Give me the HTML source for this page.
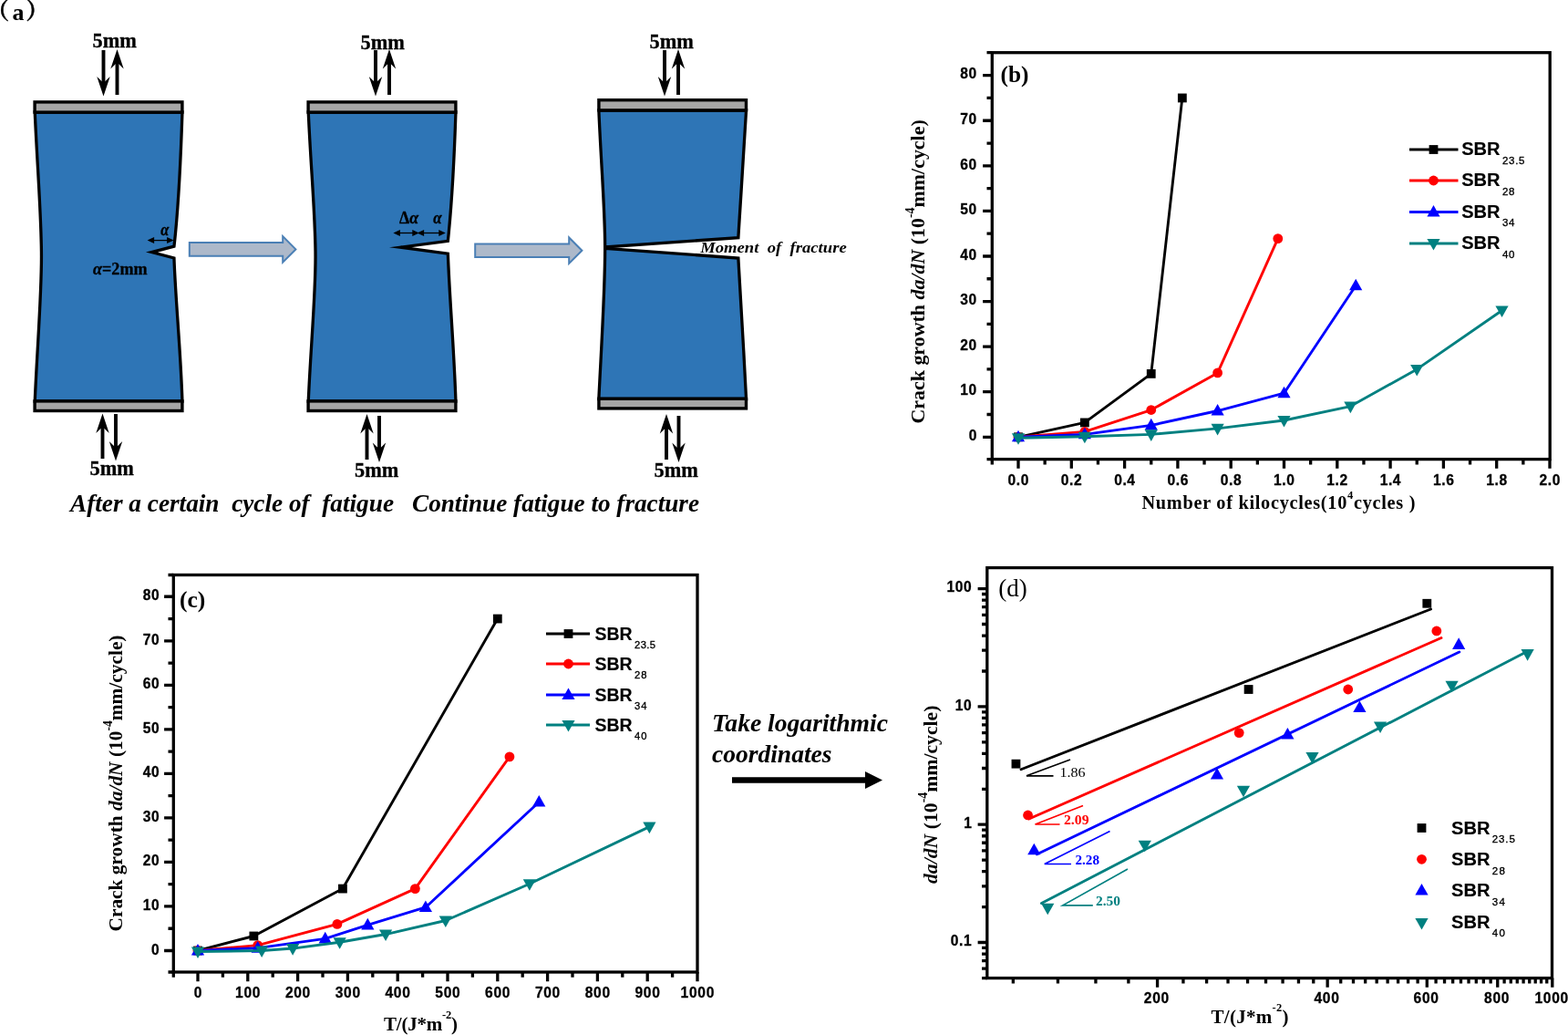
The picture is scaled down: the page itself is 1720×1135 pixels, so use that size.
<!DOCTYPE html>
<html lang="en">
<head>
<meta charset="utf-8">
<title>Fatigue crack growth of SBR</title>
<style>
html,body{margin:0;padding:0;background:#fff;}
body{width:1720px;height:1135px;overflow:hidden;}
svg{display:block;}
text{white-space:pre;}
</style>
</head>
<body>
<svg width="1720" height="1135" viewBox="0 0 1720 1135">
<rect x="0" y="0" width="1720" height="1135" fill="#fff"/>
<text font-weight="bold" fill="#000" font-family='"Liberation Serif","Noto Serif CJK SC",serif'><tspan x="-15.2" y="20.6" font-size="25.5" stroke="#000" stroke-width="0.4">（</tspan><tspan x="13.6" y="21.5" font-size="26">a</tspan><tspan x="28.3" y="20.6" font-size="25.5" stroke="#000" stroke-width="0.4">）</tspan></text>
<path d="M38.25,123 L199.95,123 C198.35,173 195.35,232.20 190.95,270.2 L166.5,276.6 L190.95,283.0 C192.75,333.00 197.95,380.00 199.95,440 L38.25,440 C40.85,380.00 45.45,326.50 45.45,281.50 C45.45,236.50 40.85,183.00 38.25,123 Z" fill="#2e75b6" stroke="#000" stroke-width="3.3" stroke-linejoin="miter" stroke-miterlimit="30"/>
<rect x="38.10" y="111.90" width="161.80" height="11.20" fill="#a6a6a6" stroke="#000" stroke-width="3.4"/>
<rect x="38.10" y="439.90" width="161.80" height="10.60" fill="#a6a6a6" stroke="#000" stroke-width="3.4"/>
<text x="101.50" y="52.00" font-size="24" font-weight="bold" font-style="normal" fill="#000" text-anchor="start" font-family='"Liberation Serif","Noto Serif CJK SC",serif' textLength="48.30" lengthAdjust="spacingAndGlyphs" stroke="#000" stroke-width="0.35">5mm</text>
<line x1="113.5" y1="55" x2="113.5" y2="92.0" stroke="#000" stroke-width="3.9"/>
<polygon points="113.5,105.5 106.3,84.0 113.5,91.0 120.7,84.0" fill="#000"/>
<line x1="128.5" y1="104" x2="128.5" y2="67.5" stroke="#000" stroke-width="3.9"/>
<polygon points="128.5,54 121.3,75.5 128.5,68.5 135.7,75.5" fill="#000"/>
<line x1="112.5" y1="503" x2="112.5" y2="467.0" stroke="#000" stroke-width="3.9"/>
<polygon points="112.5,453.5 105.3,475.0 112.5,468.0 119.7,475.0" fill="#000"/>
<line x1="127" y1="454" x2="127" y2="492.0" stroke="#000" stroke-width="3.9"/>
<polygon points="127,505.5 119.8,484.0 127,491.0 134.2,484.0" fill="#000"/>
<text x="98.50" y="521.00" font-size="24" font-weight="bold" font-style="normal" fill="#000" text-anchor="start" font-family='"Liberation Serif","Noto Serif CJK SC",serif' textLength="48.30" lengthAdjust="spacingAndGlyphs" stroke="#000" stroke-width="0.35">5mm</text>
<line x1="168.1" y1="263.6" x2="184.1" y2="263.6" stroke="#000" stroke-width="1.3"/>
<polygon points="161.6,263.6 169.1,260.1 169.1,267.1" fill="#000"/>
<polygon points="190.6,263.6 183.1,260.1 183.1,267.1" fill="#000"/>
<text x="176.20" y="257.80" font-size="19" font-weight="bold" font-style="italic" fill="#000" text-anchor="start" font-family='"Liberation Serif","Noto Serif CJK SC",serif' textLength="9.00" lengthAdjust="spacingAndGlyphs" stroke="#000" stroke-width="0.35">α</text>
<text x="102" y="300.8" font-size="18" font-weight="bold" stroke="#000" stroke-width="0.3" font-family='"Liberation Serif","Noto Serif CJK SC",serif' textLength="59.6" lengthAdjust="spacingAndGlyphs"><tspan font-style="italic">α</tspan>=2mm</text>
<polygon points="207.8,266.09999999999997 310.2,266.09999999999997 310.2,259.15 324.4,273.4 310.2,287.65 310.2,280.7 207.8,280.7" fill="#adb9ca" stroke="#4a7fb5" stroke-width="2" stroke-linejoin="miter"/>
<path d="M338.25,123 L499.95,123 C498.35,173 495.35,226.30 491.35,264.3 L439.5,271.2 L491.35,278.1 C493.15,328.10 497.95,380.00 499.95,440 L338.25,440 C340.85,380.00 346.05,326.50 346.05,281.50 C346.05,236.50 340.85,183.00 338.25,123 Z" fill="#2e75b6" stroke="#000" stroke-width="3.3" stroke-linejoin="miter" stroke-miterlimit="30"/>
<rect x="338.10" y="111.90" width="161.80" height="11.20" fill="#a6a6a6" stroke="#000" stroke-width="3.4"/>
<rect x="338.10" y="439.90" width="161.80" height="10.60" fill="#a6a6a6" stroke="#000" stroke-width="3.4"/>
<text x="395.50" y="54.00" font-size="24" font-weight="bold" font-style="normal" fill="#000" text-anchor="start" font-family='"Liberation Serif","Noto Serif CJK SC",serif' textLength="48.30" lengthAdjust="spacingAndGlyphs" stroke="#000" stroke-width="0.35">5mm</text>
<line x1="412" y1="55" x2="412" y2="92.0" stroke="#000" stroke-width="3.9"/>
<polygon points="412,105.5 404.8,84.0 412,91.0 419.2,84.0" fill="#000"/>
<line x1="427" y1="104" x2="427" y2="67.5" stroke="#000" stroke-width="3.9"/>
<polygon points="427,54 419.8,75.5 427,68.5 434.2,75.5" fill="#000"/>
<line x1="402.5" y1="504" x2="402.5" y2="467.5" stroke="#000" stroke-width="3.9"/>
<polygon points="402.5,454 395.3,475.5 402.5,468.5 409.7,475.5" fill="#000"/>
<line x1="416" y1="456" x2="416" y2="493.5" stroke="#000" stroke-width="3.9"/>
<polygon points="416,507 408.8,485.5 416,492.5 423.2,485.5" fill="#000"/>
<text x="389.00" y="523.00" font-size="24" font-weight="bold" font-style="normal" fill="#000" text-anchor="start" font-family='"Liberation Serif","Noto Serif CJK SC",serif' textLength="48.30" lengthAdjust="spacingAndGlyphs" stroke="#000" stroke-width="0.35">5mm</text>
<line x1="437.9" y1="255.5" x2="453.3" y2="255.5" stroke="#000" stroke-width="1.3"/>
<polygon points="431.4,255.5 438.9,252.0 438.9,259.0" fill="#000"/>
<polygon points="459.8,255.5 452.3,252.0 452.3,259.0" fill="#000"/>
<line x1="464.1" y1="255.5" x2="482.3" y2="255.5" stroke="#000" stroke-width="1.3"/>
<polygon points="457.6,255.5 465.1,252.0 465.1,259.0" fill="#000"/>
<polygon points="488.8,255.5 481.3,252.0 481.3,259.0" fill="#000"/>
<text x="438" y="245" font-size="19" font-weight="bold" stroke="#000" stroke-width="0.35" font-family='"Liberation Serif","Noto Serif CJK SC",serif' textLength="21" lengthAdjust="spacingAndGlyphs">Δ<tspan font-style="italic">α</tspan></text>
<text x="475.20" y="245.00" font-size="19" font-weight="bold" font-style="italic" fill="#000" text-anchor="start" font-family='"Liberation Serif","Noto Serif CJK SC",serif' textLength="9.30" lengthAdjust="spacingAndGlyphs" stroke="#000" stroke-width="0.35">α</text>
<polygon points="521.2,267.4 624.1999999999999,267.4 624.1999999999999,260.45 638.4,274.7 624.1999999999999,288.95 624.1999999999999,282.0 521.2,282.0" fill="#adb9ca" stroke="#4a7fb5" stroke-width="2" stroke-linejoin="miter"/>
<path d="M656.85,121 L818.55,121 C815.65,168 812.85,214 809.85,260.6 L663.65,271.0 C663.65,230 659.35,180 656.85,121 Z" fill="#2e75b6" stroke="#000" stroke-width="3.3" stroke-linejoin="miter" stroke-miterlimit="30"/>
<path d="M663.65,272.3 L809.85,283.0 C813.05,334 815.85,386 818.55,437.5 L656.85,437.5 C659.35,385 663.65,320 663.65,272.3 Z" fill="#2e75b6" stroke="#000" stroke-width="3.3" stroke-linejoin="miter" stroke-miterlimit="30"/>
<rect x="656.90" y="109.70" width="161.60" height="11.20" fill="#a6a6a6" stroke="#000" stroke-width="3.4"/>
<rect x="656.90" y="437.30" width="161.60" height="10.60" fill="#a6a6a6" stroke="#000" stroke-width="3.4"/>
<text x="712.50" y="52.50" font-size="24" font-weight="bold" font-style="normal" fill="#000" text-anchor="start" font-family='"Liberation Serif","Noto Serif CJK SC",serif' textLength="48.30" lengthAdjust="spacingAndGlyphs" stroke="#000" stroke-width="0.35">5mm</text>
<line x1="729" y1="55" x2="729" y2="92.0" stroke="#000" stroke-width="3.9"/>
<polygon points="729,105.5 721.8,84.0 729,91.0 736.2,84.0" fill="#000"/>
<line x1="744" y1="104" x2="744" y2="67.5" stroke="#000" stroke-width="3.9"/>
<polygon points="744,54 736.8,75.5 744,68.5 751.2,75.5" fill="#000"/>
<line x1="731" y1="504" x2="731" y2="467.5" stroke="#000" stroke-width="3.9"/>
<polygon points="731,454 723.8,475.5 731,468.5 738.2,475.5" fill="#000"/>
<line x1="744.5" y1="456" x2="744.5" y2="493.5" stroke="#000" stroke-width="3.9"/>
<polygon points="744.5,507 737.3,485.5 744.5,492.5 751.7,485.5" fill="#000"/>
<text x="717.50" y="523.00" font-size="24" font-weight="bold" font-style="normal" fill="#000" text-anchor="start" font-family='"Liberation Serif","Noto Serif CJK SC",serif' textLength="48.30" lengthAdjust="spacingAndGlyphs" stroke="#000" stroke-width="0.35">5mm</text>
<text x="768.20" y="277.20" font-size="17.5" font-weight="bold" font-style="italic" fill="#000" text-anchor="start" font-family='"Liberation Serif","Noto Serif CJK SC",serif' textLength="160.50" lengthAdjust="spacingAndGlyphs" xml:space="preserve">Moment  of  fracture</text>
<text x="77.00" y="561.00" font-size="27" font-weight="bold" font-style="italic" fill="#000" text-anchor="start" font-family='"Liberation Serif","Noto Serif CJK SC",serif' textLength="355.00" lengthAdjust="spacingAndGlyphs" xml:space="preserve">After a certain  cycle of  fatigue</text>
<text x="452.00" y="561.00" font-size="27" font-weight="bold" font-style="italic" fill="#000" text-anchor="start" font-family='"Liberation Serif","Noto Serif CJK SC",serif' textLength="315.00" lengthAdjust="spacingAndGlyphs" >Continue fatigue to fracture</text>
<polyline points="1117.00,479.30 1189.88,463.43 1262.75,409.89 1296.86,107.45" fill="none" stroke="#000000" stroke-width="2.9" stroke-linejoin="round"/>
<rect x="1112.10" y="474.40" width="9.8" height="9.8" fill="#000000"/>
<rect x="1184.97" y="458.53" width="9.8" height="9.8" fill="#000000"/>
<rect x="1257.85" y="404.99" width="9.8" height="9.8" fill="#000000"/>
<rect x="1291.96" y="102.55" width="9.8" height="9.8" fill="#000000"/>
<polyline points="1117.00,479.30 1189.88,473.35 1262.75,449.55 1335.62,408.90 1401.80,261.64" fill="none" stroke="#ff0000" stroke-width="2.9" stroke-linejoin="round"/>
<circle cx="1117.00" cy="479.30" r="5.4" fill="#ff0000"/>
<circle cx="1189.88" cy="473.35" r="5.4" fill="#ff0000"/>
<circle cx="1262.75" cy="449.55" r="5.4" fill="#ff0000"/>
<circle cx="1335.62" cy="408.90" r="5.4" fill="#ff0000"/>
<circle cx="1401.80" cy="261.64" r="5.4" fill="#ff0000"/>
<polyline points="1117.00,479.30 1189.88,476.33 1262.75,466.41 1335.62,450.54 1408.50,431.21 1487.20,313.21" fill="none" stroke="#0000ff" stroke-width="2.9" stroke-linejoin="round"/>
<polygon points="1117.00,471.74 1124.10,484.34 1109.90,484.34" fill="#0000ff"/>
<polygon points="1189.88,468.77 1196.97,481.37 1182.78,481.37" fill="#0000ff"/>
<polygon points="1262.75,458.85 1269.85,471.45 1255.65,471.45" fill="#0000ff"/>
<polygon points="1335.62,442.98 1342.72,455.58 1328.53,455.58" fill="#0000ff"/>
<polygon points="1408.50,423.65 1415.60,436.25 1401.40,436.25" fill="#0000ff"/>
<polygon points="1487.20,305.65 1494.30,318.25 1480.11,318.25" fill="#0000ff"/>
<polyline points="1117.00,480.29 1189.88,478.80 1262.75,476.33 1335.62,469.88 1408.50,460.96 1481.38,445.59 1554.25,404.93 1647.53,340.48" fill="none" stroke="#008080" stroke-width="2.9" stroke-linejoin="round"/>
<polygon points="1117.00,487.85 1124.10,475.25 1109.90,475.25" fill="#008080"/>
<polygon points="1189.88,486.36 1196.97,473.76 1182.78,473.76" fill="#008080"/>
<polygon points="1262.75,483.89 1269.85,471.29 1255.65,471.29" fill="#008080"/>
<polygon points="1335.62,477.44 1342.72,464.84 1328.53,464.84" fill="#008080"/>
<polygon points="1408.50,468.52 1415.60,455.92 1401.40,455.92" fill="#008080"/>
<polygon points="1481.38,453.15 1488.47,440.55 1474.28,440.55" fill="#008080"/>
<polygon points="1554.25,412.49 1561.35,399.89 1547.15,399.89" fill="#008080"/>
<polygon points="1647.53,348.04 1654.63,335.44 1640.43,335.44" fill="#008080"/>
<rect x="1088.3" y="57.7" width="611.90" height="445.90" fill="none" stroke="#000" stroke-width="3.3"/>
<path d="M1078.10,479.30H1088.30M1078.10,429.72H1088.30M1078.10,380.14H1088.30M1078.10,330.56H1088.30M1078.10,280.98H1088.30M1078.10,231.40H1088.30M1078.10,181.82H1088.30M1078.10,132.24H1088.30M1078.10,82.66H1088.30M1082.50,57.70H1088.30M1082.50,454.51H1088.30M1082.50,404.93H1088.30M1082.50,355.35H1088.30M1082.50,305.77H1088.30M1082.50,256.19H1088.30M1082.50,206.61H1088.30M1082.50,157.03H1088.30M1082.50,107.45H1088.30M1082.50,503.60H1088.30" fill="none" stroke="#000" stroke-width="3.3"/>
<path d="M1117.00,503.60V513.80M1175.30,503.60V513.80M1233.60,503.60V513.80M1291.90,503.60V513.80M1350.20,503.60V513.80M1408.50,503.60V513.80M1466.80,503.60V513.80M1525.10,503.60V513.80M1583.40,503.60V513.80M1641.70,503.60V513.80M1700.00,503.60V513.80M1088.30,503.60V509.40M1146.15,503.60V509.40M1204.45,503.60V509.40M1262.75,503.60V509.40M1321.05,503.60V509.40M1379.35,503.60V509.40M1437.65,503.60V509.40M1495.95,503.60V509.40M1554.25,503.60V509.40M1612.55,503.60V509.40M1670.85,503.60V509.40" fill="none" stroke="#000" stroke-width="3.3"/>
<text x="1072.00" y="483.00" font-family='"Liberation Sans",sans-serif' font-size="15.6" font-weight="bold" fill="#000" stroke="#000" stroke-width="0.3" letter-spacing="0.7" text-anchor="end">0</text>
<text x="1072.00" y="433.42" font-family='"Liberation Sans",sans-serif' font-size="15.6" font-weight="bold" fill="#000" stroke="#000" stroke-width="0.3" letter-spacing="0.7" text-anchor="end">10</text>
<text x="1072.00" y="383.84" font-family='"Liberation Sans",sans-serif' font-size="15.6" font-weight="bold" fill="#000" stroke="#000" stroke-width="0.3" letter-spacing="0.7" text-anchor="end">20</text>
<text x="1072.00" y="334.26" font-family='"Liberation Sans",sans-serif' font-size="15.6" font-weight="bold" fill="#000" stroke="#000" stroke-width="0.3" letter-spacing="0.7" text-anchor="end">30</text>
<text x="1072.00" y="284.68" font-family='"Liberation Sans",sans-serif' font-size="15.6" font-weight="bold" fill="#000" stroke="#000" stroke-width="0.3" letter-spacing="0.7" text-anchor="end">40</text>
<text x="1072.00" y="235.10" font-family='"Liberation Sans",sans-serif' font-size="15.6" font-weight="bold" fill="#000" stroke="#000" stroke-width="0.3" letter-spacing="0.7" text-anchor="end">50</text>
<text x="1072.00" y="185.52" font-family='"Liberation Sans",sans-serif' font-size="15.6" font-weight="bold" fill="#000" stroke="#000" stroke-width="0.3" letter-spacing="0.7" text-anchor="end">60</text>
<text x="1072.00" y="135.94" font-family='"Liberation Sans",sans-serif' font-size="15.6" font-weight="bold" fill="#000" stroke="#000" stroke-width="0.3" letter-spacing="0.7" text-anchor="end">70</text>
<text x="1072.00" y="86.36" font-family='"Liberation Sans",sans-serif' font-size="15.6" font-weight="bold" fill="#000" stroke="#000" stroke-width="0.3" letter-spacing="0.7" text-anchor="end">80</text>
<text x="1117.30" y="531.70" font-family='"Liberation Sans",sans-serif' font-size="15.6" font-weight="bold" fill="#000" stroke="#000" stroke-width="0.3" letter-spacing="0.6" text-anchor="middle">0.0</text>
<text x="1175.60" y="531.70" font-family='"Liberation Sans",sans-serif' font-size="15.6" font-weight="bold" fill="#000" stroke="#000" stroke-width="0.3" letter-spacing="0.6" text-anchor="middle">0.2</text>
<text x="1233.90" y="531.70" font-family='"Liberation Sans",sans-serif' font-size="15.6" font-weight="bold" fill="#000" stroke="#000" stroke-width="0.3" letter-spacing="0.6" text-anchor="middle">0.4</text>
<text x="1292.20" y="531.70" font-family='"Liberation Sans",sans-serif' font-size="15.6" font-weight="bold" fill="#000" stroke="#000" stroke-width="0.3" letter-spacing="0.6" text-anchor="middle">0.6</text>
<text x="1350.50" y="531.70" font-family='"Liberation Sans",sans-serif' font-size="15.6" font-weight="bold" fill="#000" stroke="#000" stroke-width="0.3" letter-spacing="0.6" text-anchor="middle">0.8</text>
<text x="1408.80" y="531.70" font-family='"Liberation Sans",sans-serif' font-size="15.6" font-weight="bold" fill="#000" stroke="#000" stroke-width="0.3" letter-spacing="0.6" text-anchor="middle">1.0</text>
<text x="1467.10" y="531.70" font-family='"Liberation Sans",sans-serif' font-size="15.6" font-weight="bold" fill="#000" stroke="#000" stroke-width="0.3" letter-spacing="0.6" text-anchor="middle">1.2</text>
<text x="1525.40" y="531.70" font-family='"Liberation Sans",sans-serif' font-size="15.6" font-weight="bold" fill="#000" stroke="#000" stroke-width="0.3" letter-spacing="0.6" text-anchor="middle">1.4</text>
<text x="1583.70" y="531.70" font-family='"Liberation Sans",sans-serif' font-size="15.6" font-weight="bold" fill="#000" stroke="#000" stroke-width="0.3" letter-spacing="0.6" text-anchor="middle">1.6</text>
<text x="1642.00" y="531.70" font-family='"Liberation Sans",sans-serif' font-size="15.6" font-weight="bold" fill="#000" stroke="#000" stroke-width="0.3" letter-spacing="0.6" text-anchor="middle">1.8</text>
<text x="1700.30" y="531.70" font-family='"Liberation Sans",sans-serif' font-size="15.6" font-weight="bold" fill="#000" stroke="#000" stroke-width="0.3" letter-spacing="0.6" text-anchor="middle">2.0</text>
<text x="1097.50" y="90.30" font-size="26" font-weight="bold" font-style="normal" fill="#000" text-anchor="start" font-family='"Liberation Serif","Noto Serif CJK SC",serif' textLength="31.00" lengthAdjust="spacingAndGlyphs" >(b)</text>
<text x="1014.00" y="464.50" font-family='"Liberation Serif","Noto Serif CJK SC",serif' font-size="22" font-weight="bold" transform="rotate(-90 1014.00 464.50)" textLength="333.20" lengthAdjust="spacingAndGlyphs">Crack growth <tspan font-style="italic">da/dN</tspan> (10<tspan font-size="14" dy="-11">-4</tspan><tspan dy="11">mm/cycle)</tspan></text>
<text x="1252.5" y="558.4" font-family='"Liberation Serif","Noto Serif CJK SC",serif' font-size="20.3" font-weight="bold" textLength="300" lengthAdjust="spacing">Number of kilocycles(10<tspan font-size="12.5" dy="-11.5">4</tspan><tspan dy="11.5">cycles )</tspan></text>
<line x1="1546.00" y1="164.00" x2="1599.50" y2="164.00" stroke="#000000" stroke-width="2.9" stroke-linecap="butt"/>
<rect x="1567.60" y="159.10" width="9.8" height="9.8" fill="#000000"/>
<text font-family='"Liberation Sans",sans-serif' fill="#000" stroke="#000"><tspan x="1603.20" y="170.30" font-size="21" font-weight="bold" stroke-width="0.15" textLength="42.4" lengthAdjust="spacingAndGlyphs">SBR</tspan><tspan x="1648.00" y="179.60" font-size="11.5" stroke-width="0.35" textLength="24.5" lengthAdjust="spacing">23.5</tspan></text>
<line x1="1546.00" y1="198.00" x2="1599.50" y2="198.00" stroke="#ff0000" stroke-width="2.9" stroke-linecap="butt"/>
<circle cx="1572.50" cy="198.00" r="5.4" fill="#ff0000"/>
<text font-family='"Liberation Sans",sans-serif' fill="#000" stroke="#000"><tspan x="1603.20" y="204.30" font-size="21" font-weight="bold" stroke-width="0.15" textLength="42.4" lengthAdjust="spacingAndGlyphs">SBR</tspan><tspan x="1648.00" y="213.60" font-size="11.5" stroke-width="0.35" textLength="13.5" lengthAdjust="spacing">28</tspan></text>
<line x1="1546.00" y1="232.50" x2="1599.50" y2="232.50" stroke="#0000ff" stroke-width="2.9" stroke-linecap="butt"/>
<polygon points="1572.50,224.94 1579.60,237.54 1565.40,237.54" fill="#0000ff"/>
<text font-family='"Liberation Sans",sans-serif' fill="#000" stroke="#000"><tspan x="1603.20" y="238.80" font-size="21" font-weight="bold" stroke-width="0.15" textLength="42.4" lengthAdjust="spacingAndGlyphs">SBR</tspan><tspan x="1648.00" y="248.10" font-size="11.5" stroke-width="0.35" textLength="13.5" lengthAdjust="spacing">34</tspan></text>
<line x1="1546.00" y1="267.00" x2="1599.50" y2="267.00" stroke="#008080" stroke-width="2.9" stroke-linecap="butt"/>
<polygon points="1572.50,274.56 1579.60,261.96 1565.40,261.96" fill="#008080"/>
<text font-family='"Liberation Sans",sans-serif' fill="#000" stroke="#000"><tspan x="1603.20" y="273.30" font-size="21" font-weight="bold" stroke-width="0.15" textLength="42.4" lengthAdjust="spacingAndGlyphs">SBR</tspan><tspan x="1648.00" y="282.60" font-size="11.5" stroke-width="0.35" textLength="13.5" lengthAdjust="spacing">40</tspan></text>
<polyline points="217.00,1042.50 278.38,1026.49 375.92,974.56 545.80,678.53" fill="none" stroke="#000000" stroke-width="2.9" stroke-linejoin="round"/>
<rect x="212.10" y="1037.60" width="9.8" height="9.8" fill="#000000"/>
<rect x="273.48" y="1021.59" width="9.8" height="9.8" fill="#000000"/>
<rect x="371.02" y="969.66" width="9.8" height="9.8" fill="#000000"/>
<rect x="540.90" y="673.63" width="9.8" height="9.8" fill="#000000"/>
<polyline points="217.00,1042.50 282.76,1036.68 369.89,1013.38 455.38,974.56 558.95,829.94" fill="none" stroke="#ff0000" stroke-width="2.9" stroke-linejoin="round"/>
<circle cx="217.00" cy="1042.50" r="5.4" fill="#ff0000"/>
<circle cx="282.76" cy="1036.68" r="5.4" fill="#ff0000"/>
<circle cx="369.89" cy="1013.38" r="5.4" fill="#ff0000"/>
<circle cx="455.38" cy="974.56" r="5.4" fill="#ff0000"/>
<circle cx="558.95" cy="829.94" r="5.4" fill="#ff0000"/>
<polyline points="217.00,1042.50 282.76,1039.59 356.74,1029.40 403.32,1014.35 466.89,994.94 591.28,879.44" fill="none" stroke="#0000ff" stroke-width="2.9" stroke-linejoin="round"/>
<polygon points="217.00,1034.94 224.10,1047.54 209.90,1047.54" fill="#0000ff"/>
<polygon points="282.76,1032.03 289.86,1044.63 275.66,1044.63" fill="#0000ff"/>
<polygon points="356.74,1021.84 363.84,1034.44 349.64,1034.44" fill="#0000ff"/>
<polygon points="403.32,1006.79 410.42,1019.39 396.22,1019.39" fill="#0000ff"/>
<polygon points="466.89,987.38 473.99,999.98 459.79,999.98" fill="#0000ff"/>
<polygon points="591.28,871.88 598.38,884.48 584.18,884.48" fill="#0000ff"/>
<polyline points="217.00,1043.47 287.14,1042.50 321.12,1040.07 372.63,1033.28 423.05,1024.54 488.81,1009.50 580.87,969.22 712.39,906.62" fill="none" stroke="#008080" stroke-width="2.9" stroke-linejoin="round"/>
<polygon points="217.00,1051.03 224.10,1038.43 209.90,1038.43" fill="#008080"/>
<polygon points="287.14,1050.06 294.24,1037.46 280.04,1037.46" fill="#008080"/>
<polygon points="321.12,1047.63 328.22,1035.03 314.02,1035.03" fill="#008080"/>
<polygon points="372.63,1040.84 379.73,1028.24 365.53,1028.24" fill="#008080"/>
<polygon points="423.05,1032.10 430.15,1019.50 415.95,1019.50" fill="#008080"/>
<polygon points="488.81,1017.06 495.91,1004.46 481.71,1004.46" fill="#008080"/>
<polygon points="580.87,976.78 587.97,964.18 573.77,964.18" fill="#008080"/>
<polygon points="712.39,914.18 719.49,901.58 705.29,901.58" fill="#008080"/>
<rect x="190.3" y="630.5" width="574.70" height="435.50" fill="none" stroke="#000" stroke-width="3.3"/>
<path d="M180.10,1042.50H190.30M180.10,993.97H190.30M180.10,945.44H190.30M180.10,896.91H190.30M180.10,848.38H190.30M180.10,799.85H190.30M180.10,751.32H190.30M180.10,702.79H190.30M180.10,654.26H190.30M184.50,630.50H190.30M184.50,1018.24H190.30M184.50,969.71H190.30M184.50,921.17H190.30M184.50,872.64H190.30M184.50,824.12H190.30M184.50,775.59H190.30M184.50,727.06H190.30M184.50,678.53H190.30M184.50,1066.00H190.30" fill="none" stroke="#000" stroke-width="3.3"/>
<path d="M217.00,1066.00V1076.20M271.80,1066.00V1076.20M326.60,1066.00V1076.20M381.40,1066.00V1076.20M436.20,1066.00V1076.20M491.00,1066.00V1076.20M545.80,1066.00V1076.20M600.60,1066.00V1076.20M655.40,1066.00V1076.20M710.20,1066.00V1076.20M765.00,1066.00V1076.20M190.30,1066.00V1071.80M244.40,1066.00V1071.80M299.20,1066.00V1071.80M354.00,1066.00V1071.80M408.80,1066.00V1071.80M463.60,1066.00V1071.80M518.40,1066.00V1071.80M573.20,1066.00V1071.80M628.00,1066.00V1071.80M682.80,1066.00V1071.80M737.60,1066.00V1071.80" fill="none" stroke="#000" stroke-width="3.3"/>
<text x="175.40" y="1046.50" font-family='"Liberation Sans",sans-serif' font-size="15.6" font-weight="bold" fill="#000" stroke="#000" stroke-width="0.3" letter-spacing="0.7" text-anchor="end">0</text>
<text x="175.40" y="997.97" font-family='"Liberation Sans",sans-serif' font-size="15.6" font-weight="bold" fill="#000" stroke="#000" stroke-width="0.3" letter-spacing="0.7" text-anchor="end">10</text>
<text x="175.40" y="949.44" font-family='"Liberation Sans",sans-serif' font-size="15.6" font-weight="bold" fill="#000" stroke="#000" stroke-width="0.3" letter-spacing="0.7" text-anchor="end">20</text>
<text x="175.40" y="900.91" font-family='"Liberation Sans",sans-serif' font-size="15.6" font-weight="bold" fill="#000" stroke="#000" stroke-width="0.3" letter-spacing="0.7" text-anchor="end">30</text>
<text x="175.40" y="852.38" font-family='"Liberation Sans",sans-serif' font-size="15.6" font-weight="bold" fill="#000" stroke="#000" stroke-width="0.3" letter-spacing="0.7" text-anchor="end">40</text>
<text x="175.40" y="803.85" font-family='"Liberation Sans",sans-serif' font-size="15.6" font-weight="bold" fill="#000" stroke="#000" stroke-width="0.3" letter-spacing="0.7" text-anchor="end">50</text>
<text x="175.40" y="755.32" font-family='"Liberation Sans",sans-serif' font-size="15.6" font-weight="bold" fill="#000" stroke="#000" stroke-width="0.3" letter-spacing="0.7" text-anchor="end">60</text>
<text x="175.40" y="706.79" font-family='"Liberation Sans",sans-serif' font-size="15.6" font-weight="bold" fill="#000" stroke="#000" stroke-width="0.3" letter-spacing="0.7" text-anchor="end">70</text>
<text x="175.40" y="658.26" font-family='"Liberation Sans",sans-serif' font-size="15.6" font-weight="bold" fill="#000" stroke="#000" stroke-width="0.3" letter-spacing="0.7" text-anchor="end">80</text>
<text x="217.35" y="1093.50" font-family='"Liberation Sans",sans-serif' font-size="15.6" font-weight="bold" fill="#000" stroke="#000" stroke-width="0.3" letter-spacing="0.7" text-anchor="middle">0</text>
<text x="272.15" y="1093.50" font-family='"Liberation Sans",sans-serif' font-size="15.6" font-weight="bold" fill="#000" stroke="#000" stroke-width="0.3" letter-spacing="0.7" text-anchor="middle">100</text>
<text x="326.95" y="1093.50" font-family='"Liberation Sans",sans-serif' font-size="15.6" font-weight="bold" fill="#000" stroke="#000" stroke-width="0.3" letter-spacing="0.7" text-anchor="middle">200</text>
<text x="381.75" y="1093.50" font-family='"Liberation Sans",sans-serif' font-size="15.6" font-weight="bold" fill="#000" stroke="#000" stroke-width="0.3" letter-spacing="0.7" text-anchor="middle">300</text>
<text x="436.55" y="1093.50" font-family='"Liberation Sans",sans-serif' font-size="15.6" font-weight="bold" fill="#000" stroke="#000" stroke-width="0.3" letter-spacing="0.7" text-anchor="middle">400</text>
<text x="491.35" y="1093.50" font-family='"Liberation Sans",sans-serif' font-size="15.6" font-weight="bold" fill="#000" stroke="#000" stroke-width="0.3" letter-spacing="0.7" text-anchor="middle">500</text>
<text x="546.15" y="1093.50" font-family='"Liberation Sans",sans-serif' font-size="15.6" font-weight="bold" fill="#000" stroke="#000" stroke-width="0.3" letter-spacing="0.7" text-anchor="middle">600</text>
<text x="600.95" y="1093.50" font-family='"Liberation Sans",sans-serif' font-size="15.6" font-weight="bold" fill="#000" stroke="#000" stroke-width="0.3" letter-spacing="0.7" text-anchor="middle">700</text>
<text x="655.75" y="1093.50" font-family='"Liberation Sans",sans-serif' font-size="15.6" font-weight="bold" fill="#000" stroke="#000" stroke-width="0.3" letter-spacing="0.7" text-anchor="middle">800</text>
<text x="710.55" y="1093.50" font-family='"Liberation Sans",sans-serif' font-size="15.6" font-weight="bold" fill="#000" stroke="#000" stroke-width="0.3" letter-spacing="0.7" text-anchor="middle">900</text>
<text x="765.35" y="1093.50" font-family='"Liberation Sans",sans-serif' font-size="15.6" font-weight="bold" fill="#000" stroke="#000" stroke-width="0.3" letter-spacing="0.7" text-anchor="middle">1000</text>
<text x="197.00" y="666.30" font-size="26" font-weight="bold" font-style="normal" fill="#000" text-anchor="start" font-family='"Liberation Serif","Noto Serif CJK SC",serif' textLength="28.30" lengthAdjust="spacingAndGlyphs" >(c)</text>
<text x="134.20" y="1021.50" font-family='"Liberation Serif","Noto Serif CJK SC",serif' font-size="22" font-weight="bold" transform="rotate(-90 134.20 1021.50)" textLength="325.00" lengthAdjust="spacingAndGlyphs">Crack growth <tspan font-style="italic">da/dN</tspan> (10<tspan font-size="14" dy="-11">-4</tspan><tspan dy="11">mm/cycle)</tspan></text>
<text x="421" y="1130" font-family='"Liberation Serif","Noto Serif CJK SC",serif' font-size="21" font-weight="bold" textLength="81" lengthAdjust="spacing">T/(J*m<tspan font-size="12.5" dy="-13.5">-2</tspan><tspan dy="13.5">)</tspan></text>
<line x1="599.00" y1="695.00" x2="647.00" y2="695.00" stroke="#000000" stroke-width="2.9" stroke-linecap="butt"/>
<rect x="618.60" y="690.10" width="9.8" height="9.8" fill="#000000"/>
<text font-family='"Liberation Sans",sans-serif' fill="#000" stroke="#000"><tspan x="652.50" y="701.50" font-size="20.4" font-weight="bold" stroke-width="0.15" textLength="41.2" lengthAdjust="spacingAndGlyphs">SBR</tspan><tspan x="696.10" y="710.50" font-size="11.2" stroke-width="0.35" textLength="23" lengthAdjust="spacing">23.5</tspan></text>
<line x1="599.00" y1="728.00" x2="647.00" y2="728.00" stroke="#ff0000" stroke-width="2.9" stroke-linecap="butt"/>
<circle cx="623.50" cy="728.00" r="5.4" fill="#ff0000"/>
<text font-family='"Liberation Sans",sans-serif' fill="#000" stroke="#000"><tspan x="652.50" y="734.50" font-size="20.4" font-weight="bold" stroke-width="0.15" textLength="41.2" lengthAdjust="spacingAndGlyphs">SBR</tspan><tspan x="696.10" y="743.50" font-size="11.2" stroke-width="0.35" textLength="13.5" lengthAdjust="spacing">28</tspan></text>
<line x1="599.00" y1="762.00" x2="647.00" y2="762.00" stroke="#0000ff" stroke-width="2.9" stroke-linecap="butt"/>
<polygon points="623.50,754.44 630.60,767.04 616.40,767.04" fill="#0000ff"/>
<text font-family='"Liberation Sans",sans-serif' fill="#000" stroke="#000"><tspan x="652.50" y="768.50" font-size="20.4" font-weight="bold" stroke-width="0.15" textLength="41.2" lengthAdjust="spacingAndGlyphs">SBR</tspan><tspan x="696.10" y="777.50" font-size="11.2" stroke-width="0.35" textLength="13.5" lengthAdjust="spacing">34</tspan></text>
<line x1="599.00" y1="795.00" x2="647.00" y2="795.00" stroke="#008080" stroke-width="2.9" stroke-linecap="butt"/>
<polygon points="623.50,802.56 630.60,789.96 616.40,789.96" fill="#008080"/>
<text font-family='"Liberation Sans",sans-serif' fill="#000" stroke="#000"><tspan x="652.50" y="801.50" font-size="20.4" font-weight="bold" stroke-width="0.15" textLength="41.2" lengthAdjust="spacingAndGlyphs">SBR</tspan><tspan x="696.10" y="810.50" font-size="11.2" stroke-width="0.35" textLength="13.5" lengthAdjust="spacing">40</tspan></text>
<text x="781.00" y="801.50" font-size="27" font-weight="bold" font-style="italic" fill="#000" text-anchor="start" font-family='"Liberation Serif","Noto Serif CJK SC",serif' textLength="193.00" lengthAdjust="spacingAndGlyphs" >Take logarithmic</text>
<text x="781.00" y="835.50" font-size="27" font-weight="bold" font-style="italic" fill="#000" text-anchor="start" font-family='"Liberation Serif","Noto Serif CJK SC",serif' textLength="131.50" lengthAdjust="spacingAndGlyphs" >coordinates</text>
<line x1="803" y1="855.5" x2="952" y2="855.5" stroke="#000" stroke-width="6.5"/>
<polygon points="968,855.5 949,846 949,865" fill="#000"/>
<line x1="1120.00" y1="843.75" x2="1569.50" y2="668.00" stroke="#000000" stroke-width="2.9" stroke-linecap="round"/>
<line x1="1128.75" y1="898.00" x2="1581.00" y2="699.50" stroke="#ff0000" stroke-width="2.9" stroke-linecap="round"/>
<line x1="1137.50" y1="936.75" x2="1600.75" y2="715.00" stroke="#0000ff" stroke-width="2.9" stroke-linecap="round"/>
<line x1="1142.50" y1="990.50" x2="1675.00" y2="714.50" stroke="#008080" stroke-width="2.9" stroke-linecap="round"/>
<rect x="1109.56" y="832.77" width="9.8" height="9.8" fill="#000000"/>
<rect x="1364.69" y="751.11" width="9.8" height="9.8" fill="#000000"/>
<rect x="1560.40" y="656.85" width="9.8" height="9.8" fill="#000000"/>
<circle cx="1127.55" cy="893.96" r="5.4" fill="#ff0000"/>
<circle cx="1359.19" cy="803.59" r="5.4" fill="#ff0000"/>
<circle cx="1478.74" cy="756.01" r="5.4" fill="#ff0000"/>
<circle cx="1575.86" cy="691.96" r="5.4" fill="#ff0000"/>
<polygon points="1134.31,924.67 1141.41,937.27 1127.21,937.27" fill="#0000ff"/>
<polygon points="1334.97,841.91 1342.07,854.51 1327.87,854.51" fill="#0000ff"/>
<polygon points="1412.41,797.93 1419.51,810.53 1405.31,810.53" fill="#0000ff"/>
<polygon points="1491.43,768.47 1498.53,781.07 1484.33,781.07" fill="#0000ff"/>
<polygon points="1600.17,699.28 1607.27,711.88 1593.07,711.88" fill="#0000ff"/>
<polygon points="1149.24,1003.27 1156.34,990.67 1142.14,990.67" fill="#008080"/>
<polygon points="1255.77,934.25 1262.87,921.65 1248.67,921.65" fill="#008080"/>
<polygon points="1363.97,874.26 1371.07,861.66 1356.87,861.66" fill="#008080"/>
<polygon points="1439.50,837.54 1446.60,824.94 1432.40,824.94" fill="#008080"/>
<polygon points="1514.06,804.12 1521.16,791.52 1506.96,791.52" fill="#008080"/>
<polygon points="1592.58,759.32 1599.68,746.72 1585.48,746.72" fill="#008080"/>
<polygon points="1675.63,724.64 1682.73,712.04 1668.53,712.04" fill="#008080"/>
<rect x="1082.8" y="622.6" width="619.70" height="450.00" fill="none" stroke="#000" stroke-width="3.3"/>
<path d="M1072.60,645.60H1082.80M1072.60,774.90H1082.80M1072.60,904.20H1082.80M1072.60,1033.50H1082.80M1077.00,1062.19H1082.80M1077.00,1053.53H1082.80M1077.00,1046.03H1082.80M1077.00,1039.42H1082.80M1077.00,994.58H1082.80M1077.00,971.81H1082.80M1077.00,955.65H1082.80M1077.00,943.12H1082.80M1077.00,932.89H1082.80M1077.00,924.23H1082.80M1077.00,916.73H1082.80M1077.00,910.12H1082.80M1077.00,865.28H1082.80M1077.00,842.51H1082.80M1077.00,826.35H1082.80M1077.00,813.82H1082.80M1077.00,803.59H1082.80M1077.00,794.93H1082.80M1077.00,787.43H1082.80M1077.00,780.82H1082.80M1077.00,735.98H1082.80M1077.00,713.21H1082.80M1077.00,697.05H1082.80M1077.00,684.52H1082.80M1077.00,674.29H1082.80M1077.00,665.63H1082.80M1077.00,658.13H1082.80M1077.00,651.52H1082.80M1077.00,1072.60H1082.80" fill="none" stroke="#000" stroke-width="3.3"/>
<path d="M1269.58,1072.60V1082.80M1456.16,1072.60V1082.80M1565.30,1072.60V1082.80M1642.74,1072.60V1082.80M1702.80,1072.60V1082.80M1111.36,1072.60V1078.40M1160.44,1072.60V1078.40M1201.93,1072.60V1078.40M1237.87,1072.60V1078.40M1297.94,1072.60V1078.40M1323.59,1072.60V1078.40M1347.02,1072.60V1078.40M1368.56,1072.60V1078.40M1388.51,1072.60V1078.40M1407.08,1072.60V1078.40M1424.45,1072.60V1078.40M1440.77,1072.60V1078.40M1470.71,1072.60V1078.40M1484.52,1072.60V1078.40M1497.65,1072.60V1078.40M1510.17,1072.60V1078.40M1522.14,1072.60V1078.40M1533.59,1072.60V1078.40M1544.58,1072.60V1078.40M1555.14,1072.60V1078.40M1575.09,1072.60V1078.40M1584.53,1072.60V1078.40M1593.66,1072.60V1078.40M1602.48,1072.60V1078.40M1611.03,1072.60V1078.40M1619.31,1072.60V1078.40M1627.35,1072.60V1078.40M1635.15,1072.60V1078.40M1650.11,1072.60V1078.40M1657.29,1072.60V1078.40M1664.28,1072.60V1078.40M1671.10,1072.60V1078.40M1677.74,1072.60V1078.40M1684.23,1072.60V1078.40M1690.56,1072.60V1078.40M1696.75,1072.60V1078.40" fill="none" stroke="#000" stroke-width="3.3"/>
<text x="1066.50" y="649.30" font-family='"Liberation Sans",sans-serif' font-size="15.6" font-weight="bold" fill="#000" stroke="#000" stroke-width="0.3" letter-spacing="0.7" text-anchor="end">100</text>
<text x="1066.50" y="778.60" font-family='"Liberation Sans",sans-serif' font-size="15.6" font-weight="bold" fill="#000" stroke="#000" stroke-width="0.3" letter-spacing="0.7" text-anchor="end">10</text>
<text x="1066.50" y="907.90" font-family='"Liberation Sans",sans-serif' font-size="15.6" font-weight="bold" fill="#000" stroke="#000" stroke-width="0.3" letter-spacing="0.7" text-anchor="end">1</text>
<text x="1066.50" y="1037.20" font-family='"Liberation Sans",sans-serif' font-size="15.6" font-weight="bold" fill="#000" stroke="#000" stroke-width="0.3" letter-spacing="0.7" text-anchor="end">0.1</text>
<text x="1268.93" y="1099.90" font-family='"Liberation Sans",sans-serif' font-size="15.6" font-weight="bold" fill="#000" stroke="#000" stroke-width="0.3" letter-spacing="0.7" text-anchor="middle">200</text>
<text x="1455.51" y="1099.90" font-family='"Liberation Sans",sans-serif' font-size="15.6" font-weight="bold" fill="#000" stroke="#000" stroke-width="0.3" letter-spacing="0.7" text-anchor="middle">400</text>
<text x="1564.65" y="1099.90" font-family='"Liberation Sans",sans-serif' font-size="15.6" font-weight="bold" fill="#000" stroke="#000" stroke-width="0.3" letter-spacing="0.7" text-anchor="middle">600</text>
<text x="1642.09" y="1099.90" font-family='"Liberation Sans",sans-serif' font-size="15.6" font-weight="bold" fill="#000" stroke="#000" stroke-width="0.3" letter-spacing="0.7" text-anchor="middle">800</text>
<text x="1702.15" y="1099.90" font-family='"Liberation Sans",sans-serif' font-size="15.6" font-weight="bold" fill="#000" stroke="#000" stroke-width="0.3" letter-spacing="0.7" text-anchor="middle">1000</text>
<text x="1095.20" y="653.60" font-size="27" font-weight="normal" font-style="normal" fill="#000" text-anchor="start" font-family='"Liberation Serif","Noto Serif CJK SC",serif' textLength="31.50" lengthAdjust="spacingAndGlyphs" >(d)</text>
<text x="1027.50" y="969.00" font-family='"Liberation Serif","Noto Serif CJK SC",serif' font-size="22" font-weight="bold" transform="rotate(-90 1027.50 969.00)" textLength="195.50" lengthAdjust="spacingAndGlyphs"><tspan font-style="italic">da/dN</tspan> (10<tspan font-size="14" dy="-11">-4</tspan><tspan dy="11">mm/cycle)</tspan></text>
<text x="1328.5" y="1122" font-family='"Liberation Serif","Noto Serif CJK SC",serif' font-size="21" font-weight="bold" textLength="85" lengthAdjust="spacing">T/(J*m<tspan font-size="12.5" dy="-13.5">-2</tspan><tspan dy="13.5">)</tspan></text>
<polyline points="1155.5,850.8 1126,850.8 1174,833" fill="none" stroke="#000000" stroke-width="1.7"/>
<text x="1162.50" y="852.00" font-size="14.5" font-weight="normal" font-style="normal" fill="#000000" text-anchor="start" font-family='"Liberation Serif","Noto Serif CJK SC",serif' textLength="28.00" lengthAdjust="spacingAndGlyphs" >1.86</text>
<polyline points="1162.5,904 1135.5,904 1188,883.5" fill="none" stroke="#ff0000" stroke-width="1.7"/>
<text x="1167.00" y="903.80" font-size="14.5" font-weight="bold" font-style="normal" fill="#ff0000" text-anchor="start" font-family='"Liberation Serif","Noto Serif CJK SC",serif' textLength="27.50" lengthAdjust="spacingAndGlyphs" >2.09</text>
<polyline points="1175,947.5 1145.8,947.5 1217.5,911.5" fill="none" stroke="#0000ff" stroke-width="1.7"/>
<text x="1179.50" y="947.60" font-size="14.5" font-weight="bold" font-style="normal" fill="#0000ff" text-anchor="start" font-family='"Liberation Serif","Noto Serif CJK SC",serif' textLength="26.50" lengthAdjust="spacingAndGlyphs" >2.28</text>
<polyline points="1198.8,992.8 1165.8,992.8 1237,953" fill="none" stroke="#008080" stroke-width="1.7"/>
<text x="1202.00" y="992.80" font-size="14.5" font-weight="bold" font-style="normal" fill="#008080" text-anchor="start" font-family='"Liberation Serif","Noto Serif CJK SC",serif' textLength="27.00" lengthAdjust="spacingAndGlyphs" >2.50</text>
<rect x="1554.60" y="903.10" width="9.8" height="9.8" fill="#000000"/>
<circle cx="1559.50" cy="942.30" r="5.4" fill="#ff0000"/>
<polygon points="1559.50,968.94 1566.60,981.54 1552.40,981.54" fill="#0000ff"/>
<polygon points="1559.50,1019.56 1566.60,1006.96 1552.40,1006.96" fill="#008080"/>
<text font-family='"Liberation Sans",sans-serif' fill="#000" stroke="#000"><tspan x="1592.00" y="914.90" font-size="21" font-weight="bold" stroke-width="0.15" textLength="42.4" lengthAdjust="spacingAndGlyphs">SBR</tspan><tspan x="1636.80" y="924.20" font-size="11.5" stroke-width="0.35" textLength="25" lengthAdjust="spacing">23.5</tspan></text>
<text font-family='"Liberation Sans",sans-serif' fill="#000" stroke="#000"><tspan x="1592.00" y="949.40" font-size="21" font-weight="bold" stroke-width="0.15" textLength="42.4" lengthAdjust="spacingAndGlyphs">SBR</tspan><tspan x="1636.80" y="958.70" font-size="11.5" stroke-width="0.35" textLength="14" lengthAdjust="spacing">28</tspan></text>
<text font-family='"Liberation Sans",sans-serif' fill="#000" stroke="#000"><tspan x="1592.00" y="983.40" font-size="21" font-weight="bold" stroke-width="0.15" textLength="42.4" lengthAdjust="spacingAndGlyphs">SBR</tspan><tspan x="1636.80" y="992.70" font-size="11.5" stroke-width="0.35" textLength="14" lengthAdjust="spacing">34</tspan></text>
<text font-family='"Liberation Sans",sans-serif' fill="#000" stroke="#000"><tspan x="1592.00" y="1017.90" font-size="21" font-weight="bold" stroke-width="0.15" textLength="42.4" lengthAdjust="spacingAndGlyphs">SBR</tspan><tspan x="1636.80" y="1027.20" font-size="11.5" stroke-width="0.35" textLength="14" lengthAdjust="spacing">40</tspan></text>
</svg>
</body>
</html>
